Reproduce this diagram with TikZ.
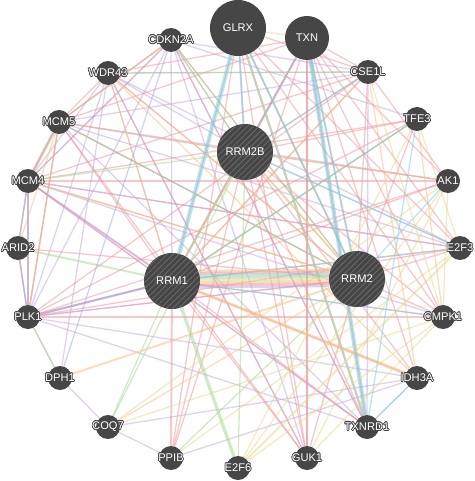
\documentclass[tikz,border=0pt]{standalone}
\usepackage{fontspec}
\setmainfont{Liberation Sans}
\usepackage{contour}
\contourlength{0.55pt}
\usetikzlibrary{patterns.meta}
\definecolor{gnode}{RGB}{70,70,70}
\definecolor{ghatch}{RGB}{106,106,106}
\definecolor{ephys}{RGB}{236,146,152}
\definecolor{ecoexp}{RGB}{196,164,214}
\definecolor{epred}{RGB}{246,188,128}
\definecolor{epath}{RGB}{120,206,226}
\definecolor{egen}{RGB}{164,214,142}
\definecolor{edom}{RGB}{228,214,140}
\definecolor{ecoloc}{RGB}{156,172,222}
\pgfdeclarelayer{bg}
\pgfsetlayers{bg,main}
\newcommand{\genelab}[1]{\contour{gnode}{#1}}
\tikzset{
  gene/.style={circle,fill=gnode,draw=none,inner sep=0pt,minimum size=0.72cm,
    text=white,font=\fontsize{9.5}{10}\selectfont},
  glabel/.style={text=white,font=\fontsize{9.5}{10}\selectfont,inner sep=0pt},
  hub/.style={gene,minimum size=1.68cm},
  query/.style={hub,preaction={fill=gnode},
    pattern={Lines[angle=45,distance=3.6pt,line width=0.7pt]},pattern color=ghatch},
  % edge types, one colour each
  link/.style={line width=1.1pt,opacity=0.5},
  phys/.style={link,draw=ephys},
  coexp/.style={link,draw=ecoexp},
  pred/.style={link,draw=epred},
  path/.style={link,draw=epath},
  genet/.style={link,draw=egen},
  dom/.style={link,draw=edom},
  coloc/.style={link,draw=ecoloc},
  fat/.style={line width=2.8pt},
  mid/.style={line width=1.7pt}
}

\begin{document}
\begin{tikzpicture}[x=0.03cm,y=-0.03cm]
  \useasboundingbox (0,0) rectangle (474,481);
  % hubs
  \node[hub] (glrx) at (238,28) {GLRX};
  \node[gene,minimum size=1.32cm] (txn) at (307,38) {TXN};
  \node[query] (rrmtwob) at (245,152) {RRM2B};
  \node[query] (rrmone) at (172,281) {RRM1};
  \node[query] (rrmtwo) at (357,279) {RRM2};
  % ring of genes
  \node[gene,label={[glabel]center:\genelab{CDKN2A}}] (cdkn) at (171,40) {};
  \node[gene,label={[glabel]center:\genelab{WDR43}}] (wdr) at (108,73) {};
  \node[gene,label={[glabel]center:\genelab{CSE1L}}] (cse) at (368,72) {};
  \node[gene,label={[glabel]center:\genelab{MCM5}}] (mcmfive) at (59,122) {};
  \node[gene,label={[glabel]center:\genelab{TFE3}}] (tfe) at (417,119) {};
  \node[gene,label={[glabel]center:\genelab{MCM4}}] (mcmfour) at (28,181) {};
  \node[gene,label={[glabel]center:\genelab{AK1}}] (akone) at (448,181) {};
  \node[gene,label={[glabel]center:\genelab{ARID2}}] (arid) at (18,248) {};
  \node[gene,label={[glabel]center:\genelab{E2F3}}] (efthree) at (460,248) {};
  \node[gene,label={[glabel]center:\genelab{PLK1}}] (plk) at (28,317) {};
  \node[gene,label={[glabel]center:\genelab{CMPK1}}] (cmpk) at (443,317) {};
  \node[gene,label={[glabel]center:\genelab{DPH1}}] (dph) at (60,378) {};
  \node[gene,label={[glabel]center:\genelab{IDH3A}}] (idh) at (417,378) {};
  \node[gene,label={[glabel]center:\genelab{COQ7}}] (coq) at (108,427) {};
  \node[gene,label={[glabel]center:\genelab{TXNRD1}}] (txnrd) at (367,427) {};
  \node[gene,label={[glabel]center:\genelab{PPIB}}] (ppib) at (171,458) {};
  \node[gene,label={[glabel]center:\genelab{E2F6}}] (efsix) at (238,468) {};
  \node[gene,label={[glabel]center:\genelab{GUK1}}] (guk) at (307,458) {};

  \begin{pgfonlayer}{bg}
    % physical interactions
    \foreach \a/\b in {rrmone/rrmtwob,rrmtwo/rrmtwob,glrx/rrmone,glrx/rrmtwo,glrx/rrmtwob,
      txn/rrmone,txn/rrmtwo,txn/rrmtwob,glrx/guk,txn/guk,txn/cse,glrx/cse,txn/cmpk,
      txn/efthree,txn/akone,cse/rrmone,cse/rrmtwo,cse/akone,tfe/rrmone,akone/rrmone,
      akone/mcmfour,efthree/rrmone,efthree/mcmfour,cmpk/rrmone,cmpk/rrmtwob,cmpk/rrmtwo,
      plk/rrmtwo,plk/mcmfour,plk/arid,plk/mcmfive,mcmfour/rrmtwo,mcmfour/rrmone,
      mcmfive/rrmtwo,mcmfive/rrmone,mcmfive/cdkn,wdr/rrmtwo,wdr/mcmfive,cdkn/rrmtwo,
      cdkn/mcmfour,ppib/rrmtwob,guk/rrmone,guk/rrmtwob,guk/rrmtwo,guk/mcmfive,
      txnrd/rrmone,txnrd/mcmfour,txnrd/rrmtwob,idh/rrmtwob,tfe/rrmtwo,tfe/mcmfour,
      arid/rrmtwo,efthree/plk,txn/ppib,cse/mcmfour,tfe/plk,akone/plk,glrx/efthree,
      glrx/cmpk,txn/idh,txn/mcmfive,glrx/ppib,cse/plk,akone/rrmtwob,efthree/rrmtwo,
      cmpk/plk,guk/wdr,txnrd/cdkn,tfe/rrmtwob,cse/rrmtwob,idh/rrmone,txn/wdr}
      \draw[phys] (\a) -- (\b);
    \foreach \a/\b in {glrx/txnrd,txn/txnrd,plk/rrmone,ppib/rrmone,txn/rrmone,guk/txn}
      \draw[phys,mid] (\a) -- (\b);
    % co-expression
    \foreach \a/\b in {cdkn/plk,cdkn/mcmfive,cdkn/rrmone,cdkn/mcmfour,wdr/mcmfour,wdr/cse,
      wdr/rrmone,wdr/plk,wdr/efthree,mcmfive/cse,mcmfive/rrmtwob,mcmfive/plk,
      mcmfour/efthree,mcmfour/cmpk,arid/plk,plk/txnrd,plk/idh,dph/wdr,coq/idh,coq/dph,
      coq/ppib,ppib/idh,guk/cdkn,txnrd/cse,txnrd/mcmfive,rrmtwo/plk,efthree/rrmtwob,
      akone/mcmfive,tfe/cdkn,cdkn/txnrd,wdr/guk,mcmfour/txnrd,idh/txnrd,dph/plk,
      cdkn/rrmtwob,wdr/rrmtwob,mcmfive/efthree,arid/mcmfour,cse/cdkn,rrmtwo/mcmfive}
      \draw[coexp] (\a) -- (\b);
    \foreach \a/\b in {mcmfive/mcmfour,mcmfour/rrmone,plk/rrmone}
      \draw[coexp,mid] (\a) -- (\b);
    % predicted
    \foreach \a/\b in {mcmfive/rrmtwob,wdr/rrmtwo,wdr/rrmone,mcmfour/rrmtwo,cse/rrmone,
      cdkn/mcmfive,arid/mcmfive,akone/rrmtwob,plk/mcmfive,coq/rrmtwo,cse/idh,
      wdr/idh,mcmfour/arid,tfe/cmpk,glrx/rrmtwo}
      \draw[pred] (\a) -- (\b);
    \draw[pred,fat] (mcmfive) -- (mcmfour);
    \draw[pred,mid] (dph) -- (rrmtwo);
    \draw[pred,fat] (rrmone) -- (idh);
    % pathway
    \draw[path,line width=3.6pt] (glrx) -- (rrmone);
    \draw[path,line width=3.6pt] (txn) -- (txnrd);
    \foreach \a/\b in {glrx/rrmtwo,glrx/txnrd,txn/rrmtwo,glrx/rrmtwob}
      \draw[path,mid] (\a) -- (\b);
    \foreach \a/\b in {txn/rrmone,tfe/rrmone,efthree/rrmone,cmpk/rrmone,efthree/rrmtwob,
      akone/rrmtwo,idh/txnrd,tfe/txnrd,cse/rrmtwob}
      \draw[path] (\a) -- (\b);
    % genetic interactions
    \draw[genet,mid] (arid) -- (rrmone);
    \draw[genet,fat] (rrmone) -- (efsix);
    \foreach \a/\b in {cdkn/rrmtwo,coq/rrmone,coq/rrmtwob,mcmfour/rrmtwob,efsix/rrmtwob,
      plk/dph,tfe/rrmone,ppib/rrmtwo,cdkn/rrmtwob,wdr/cse,mcmfive/rrmtwo}
      \draw[genet] (\a) -- (\b);
    % shared protein domains
    \foreach \a/\b in {glrx/txn,glrx/txnrd,akone/cmpk,akone/guk,cmpk/guk,efsix/tfe,
      tfe/efthree,coq/cmpk,efsix/cmpk,efsix/akone,cse/cmpk,ppib/efthree,coq/akone}
      \draw[dom] (\a) -- (\b);
    \foreach \a/\b in {rrmone/rrmtwob,rrmtwo/rrmtwob,efsix/efthree}
      \draw[dom,mid] (\a) -- (\b);
    % co-localization
    \foreach \a/\b in {mcmfive/mcmfour,plk/mcmfour,plk/arid,mcmfour/arid,plk/rrmone,
      dph/cdkn}
      \draw[coloc] (\a) -- (\b);
    % the RRM1 -- RRM2 bundle
    \foreach \c/\s in {ecoexp/-7,ephys/-4.5,epred/-2,edom/0.5,egen/3,epath/5.5,ephys/8,epred/10}
      \draw[link,line width=2.2pt,draw=\c,transform canvas={yshift=\s*0.8pt}] (rrmone) -- (rrmtwo);
  \end{pgfonlayer}
\end{tikzpicture}
\end{document}
